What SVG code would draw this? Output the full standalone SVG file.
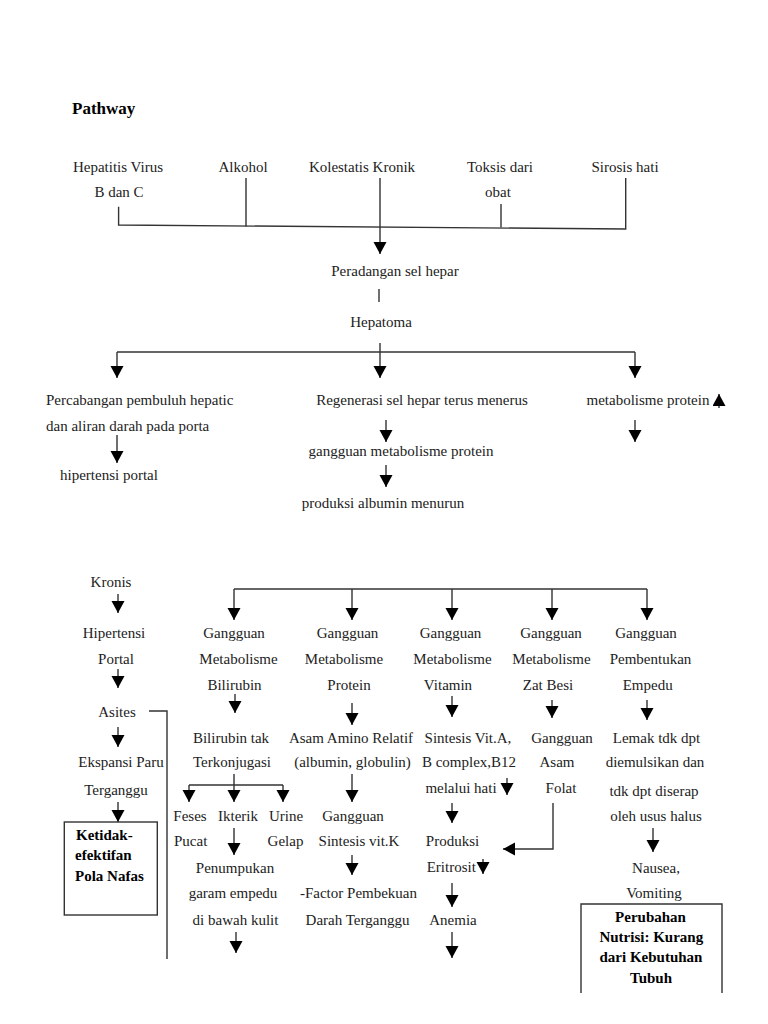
<svg xmlns="http://www.w3.org/2000/svg" width="768" height="1024" viewBox="0 0 768 1024">
<defs>
<marker id="ah" markerUnits="userSpaceOnUse" markerWidth="14" markerHeight="14" refX="12" refY="6.5" orient="auto">
<path d="M0,0 L12,6.5 L0,13 Z" fill="#000"/>
</marker>
<style>
text{font-family:"Liberation Serif","Times New Roman",serif;font-size:15px;fill:#222}
.m{text-anchor:middle}
.b{font-weight:bold;fill:#000}
.ln{fill:none;stroke:#333;stroke-width:1.4}
.ar{fill:none;stroke:#333;stroke-width:1.4;marker-end:url(#ah)}
</style>
</defs>
<rect width="768" height="1024" fill="#fff"/>
<text x="72" y="114" class="b" style="font-size:17px">Pathway</text>

<g id="connectors">
<path class="ln" d="M118.6,206.7 V225 L625.7,229 V178"/>
<line class="ln" x1="246" y1="178" x2="246" y2="226.5"/>
<line class="ln" x1="501" y1="204" x2="501" y2="227.5"/>
<line class="ar" x1="380" y1="178" x2="380" y2="254"/>
<line class="ln" x1="379" y1="289" x2="379" y2="302"/>
<line class="ln" x1="380" y1="343" x2="380" y2="352"/>
<line class="ln" x1="117" y1="352" x2="635" y2="352"/>
<line class="ar" x1="117" y1="352" x2="117" y2="378"/>
<line class="ar" x1="380" y1="352" x2="380" y2="378"/>
<line class="ar" x1="635" y1="352" x2="635" y2="378"/>
<line class="ar" x1="117" y1="435" x2="117" y2="463"/>
<line class="ar" x1="386" y1="420" x2="386" y2="442"/>
<line class="ar" x1="386" y1="465" x2="386" y2="487"/>
<line class="ar" x1="635" y1="420" x2="635" y2="442"/>
<line class="ar" x1="719" y1="408" x2="719" y2="394"/>

<line class="ln" x1="234" y1="589" x2="647" y2="589"/>
<line class="ar" x1="234" y1="589" x2="234" y2="620"/>
<line class="ar" x1="352" y1="589" x2="352" y2="620"/>
<line class="ar" x1="452" y1="589" x2="452" y2="620"/>
<line class="ar" x1="552" y1="589" x2="552" y2="620"/>
<line class="ar" x1="647" y1="589" x2="647" y2="620"/>

<line class="ar" x1="118" y1="594" x2="118" y2="613"/>
<line class="ar" x1="118" y1="669" x2="118" y2="688"/>
<line class="ar" x1="118" y1="727" x2="118" y2="747"/>
<line class="ar" x1="118" y1="802" x2="118" y2="822"/>
<path class="ln" d="M149,711 H167 V959"/>

<line class="ar" x1="235" y1="694" x2="235" y2="713"/>
<line class="ar" x1="234" y1="774" x2="234" y2="802"/>
<line class="ln" x1="189" y1="785" x2="283" y2="785"/>
<line class="ar" x1="189" y1="785" x2="189" y2="802"/>
<line class="ar" x1="283" y1="785" x2="283" y2="802"/>
<line class="ar" x1="234" y1="828" x2="234" y2="855"/>
<line class="ar" x1="236" y1="932" x2="236" y2="953"/>

<line class="ar" x1="352" y1="703" x2="352" y2="725"/>
<line class="ar" x1="352" y1="774" x2="352" y2="802"/>
<line class="ar" x1="352" y1="855" x2="352" y2="875"/>

<line class="ar" x1="452" y1="696" x2="452" y2="717"/>
<line class="ar" x1="507" y1="778" x2="507" y2="795"/>
<line class="ar" x1="452" y1="803" x2="452" y2="823"/>
<path class="ar" d="M553,803 V849 H503"/>
<line class="ar" x1="483" y1="859" x2="483" y2="874"/>
<line class="ar" x1="452" y1="883" x2="452" y2="907"/>
<line class="ar" x1="452" y1="932" x2="452" y2="958"/>

<line class="ar" x1="552" y1="700" x2="552" y2="718"/>
<line class="ar" x1="647" y1="700" x2="647" y2="720"/>
<line class="ar" x1="653" y1="828" x2="653" y2="852"/>
</g>

<g id="n-hepatitis"><text class="m" x="118" y="172">Hepatitis Virus</text><text class="m" x="119" y="197">B dan C</text></g>
<g id="n-alkohol"><text class="m" x="243" y="172">Alkohol</text></g>
<g id="n-kolestatis"><text class="m" x="362" y="172">Kolestatis Kronik</text></g>
<g id="n-toksis"><text class="m" x="500" y="172">Toksis dari</text><text class="m" x="498" y="197">obat</text></g>
<g id="n-sirosis"><text class="m" x="625" y="172">Sirosis hati</text></g>
<g id="n-peradangan"><text class="m" x="395" y="276">Peradangan sel hepar</text></g>
<g id="n-hepatoma"><text class="m" x="381" y="327">Hepatoma</text></g>

<g id="n-percabangan"><text x="46" y="405">Percabangan pembuluh hepatic</text><text x="46" y="431">dan aliran darah pada porta</text></g>
<g id="n-hipertensi-portal"><text x="60" y="480">hipertensi portal</text></g>
<g id="n-regenerasi"><text class="m" x="422" y="405">Regenerasi sel hepar terus menerus</text></g>
<g id="n-gangguan-protein"><text class="m" x="401" y="456">gangguan metabolisme protein</text></g>
<g id="n-albumin"><text class="m" x="383" y="508">produksi albumin menurun</text></g>
<g id="n-metabolisme-protein"><text class="m" x="648" y="405">metabolisme protein</text></g>

<g id="n-kronis"><text class="m" x="111" y="587">Kronis</text></g>
<g id="n-hipertensi"><text class="m" x="114" y="638">Hipertensi</text><text class="m" x="116" y="664">Portal</text></g>
<g id="n-asites"><text class="m" x="117" y="717">Asites</text></g>
<g id="n-ekspansi"><text class="m" x="121" y="767">Ekspansi Paru</text><text class="m" x="116" y="795">Terganggu</text></g>
<g id="n-pola-nafas"><rect class="ln" x="64.3" y="822" width="93" height="93"/><text class="b" x="76" y="840">Ketidak-</text><text class="b" x="75" y="860">efektifan</text><text class="b" x="75" y="881">Pola Nafas</text></g>

<g id="n-bilirubin"><text class="m" x="234" y="638">Gangguan</text><text class="m" x="238.5" y="664">Metabolisme</text><text class="m" x="234.5" y="690">Bilirubin</text></g>
<g id="n-bilirubin-tak"><text class="m" x="231" y="743">Bilirubin tak</text><text class="m" x="232" y="767">Terkonjugasi</text></g>
<g id="n-feses"><text class="m" x="190" y="821">Feses</text><text x="174" y="846">Pucat</text></g>
<g id="n-ikterik"><text class="m" x="238" y="821">Ikterik</text></g>
<g id="n-urine"><text class="m" x="286" y="821">Urine</text><text class="m" x="285.5" y="846">Gelap</text></g>
<g id="n-penumpukan"><text class="m" x="235" y="873">Penumpukan</text><text class="m" x="233" y="898">garam empedu</text><text class="m" x="235.5" y="925">di bawah kulit</text></g>

<g id="n-protein"><text class="m" x="347.5" y="638">Gangguan</text><text class="m" x="344" y="664">Metabolisme</text><text class="m" x="349" y="690">Protein</text></g>
<g id="n-asam-amino"><text class="m" x="351" y="743">Asam Amino Relatif</text><text class="m" x="352.5" y="767">(albumin, globulin)</text></g>
<g id="n-sintesis-k"><text class="m" x="353" y="821">Gangguan</text><text class="m" x="359" y="846">Sintesis vit.K</text></g>
<g id="n-factor"><text class="m" x="358.5" y="898">-Factor Pembekuan</text><text class="m" x="357.5" y="925">Darah Terganggu</text></g>

<g id="n-vitamin"><text class="m" x="450.5" y="638">Gangguan</text><text class="m" x="452.5" y="664">Metabolisme</text><text class="m" x="448" y="690">Vitamin</text></g>
<g id="n-sintesis-vit"><text class="m" x="468" y="743">Sintesis Vit.A,</text><text class="m" x="469" y="767">B complex,B12</text><text class="m" x="461" y="793">melalui hati</text></g>
<g id="n-eritrosit"><text class="m" x="452.5" y="846">Produksi</text><text x="426.7" y="872">Eritrosit</text></g>
<g id="n-anemia"><text class="m" x="453" y="925">Anemia</text></g>

<g id="n-zat-besi"><text class="m" x="551" y="638">Gangguan</text><text class="m" x="551.5" y="664">Metabolisme</text><text class="m" x="548" y="690">Zat Besi</text></g>
<g id="n-folat"><text class="m" x="562" y="743">Gangguan</text><text class="m" x="557" y="767">Asam</text><text class="m" x="561" y="793">Folat</text></g>

<g id="n-empedu"><text class="m" x="646" y="638">Gangguan</text><text class="m" x="650.5" y="664">Pembentukan</text><text class="m" x="647.7" y="690">Empedu</text></g>
<g id="n-lemak"><text class="m" x="656.5" y="743">Lemak tdk dpt</text><text class="m" x="655" y="767">diemulsikan dan</text><text class="m" x="654" y="796">tdk dpt diserap</text><text class="m" x="656" y="821">oleh usus halus</text></g>
<g id="n-nausea"><text class="m" x="656" y="873">Nausea,</text><text class="m" x="654" y="898">Vomiting</text></g>
<g id="n-nutrisi"><path class="ln" d="M581,993 V904 H722 V993"/><text class="b m" x="650.5" y="922">Perubahan</text><text class="b m" x="651.3" y="942">Nutrisi: Kurang</text><text class="b m" x="651" y="962">dari Kebutuhan</text><text class="b m" x="651" y="983">Tubuh</text></g>
</svg>
